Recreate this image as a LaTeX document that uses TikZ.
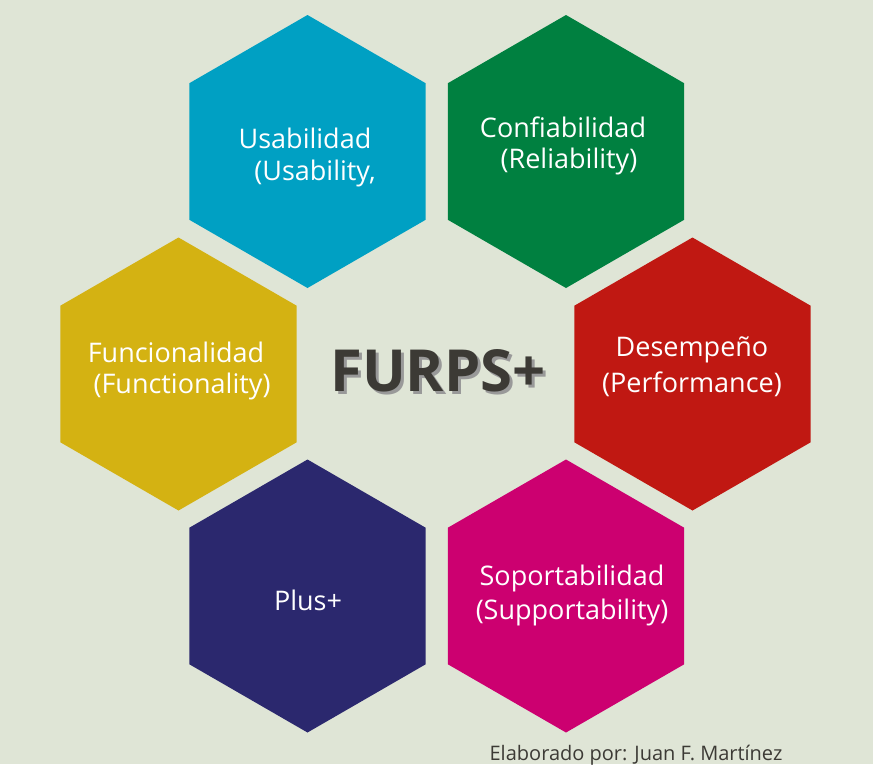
\documentclass[tikz,border=0pt]{standalone}
\usepackage{fontspec}
\setmainfont{Open Sans}
\usetikzlibrary{shapes.geometric}
\definecolor{bg}{HTML}{DFE5D6}
\definecolor{cblue}{HTML}{00A0C3}
\definecolor{cgreen}{HTML}{008040}
\definecolor{cyellow}{HTML}{D4B212}
\definecolor{cred}{HTML}{C01812}
\definecolor{cnavy}{HTML}{2B286E}
\definecolor{cmag}{HTML}{CC0070}
\definecolor{dark}{HTML}{3C3A35}
\tikzset{hexa/.style={regular polygon,regular polygon sides=6,shape border rotate=30,minimum size=273pt,inner sep=0pt,fill=#1,draw=none},
lab/.style={text=white,font=\fontsize{27}{32}\selectfont,anchor=center,inner sep=0pt}}
\begin{document}
\begin{tikzpicture}[x=1pt,y=-1pt]
\fill[bg] (0,0) rectangle (873,764);
\useasboundingbox (0,0) rectangle (873,764);
\node[hexa=cblue] (u) at (307.5,151.5) {};
\node[hexa=cgreen] (c) at (566,151.5) {};
\node[hexa=cyellow] (f) at (178.5,374) {};
\node[hexa=cred] (d) at (692.5,374) {};
\node[hexa=cnavy] (p) at (307.5,596) {};
\node[hexa=cmag] (s) at (566,596) {};
\node[lab] (u1) at (305,138) {Usabilidad};
\node[lab] (u2) at (315,173) {(Usability,};
\node[lab] (c1) at (563,127) {Confiabilidad};
\node[lab] (c2) at (569,161) {(Reliability)};
\node[lab] (f1) at (176,352) {Funcionalidad};
\node[lab] (f2) at (182,386) {(Functionality)};
\node[lab] (d1) at (692,350) {Desempeño};
\node[lab] (d2) at (692,384) {(Performance)};
\node[lab] (p1) at (308,600) {Plus+};
\node[lab] (s1) at (572,578) {Soportabilidad};
\node[lab] (s2) at (572,612) {(Supportability)};
\node[text=black!40,font=\fontsize{58}{64}\selectfont\bfseries] at (441,374) {FURPS+};
\node[text=dark,font=\fontsize{58}{64}\selectfont\bfseries] (t) at (438,371) {FURPS+};
\node[text=dark,font=\fontsize{20}{24}\selectfont] (e) at (636,755) {Elaborado por: Juan F. Martínez};
\end{tikzpicture}
\end{document}
